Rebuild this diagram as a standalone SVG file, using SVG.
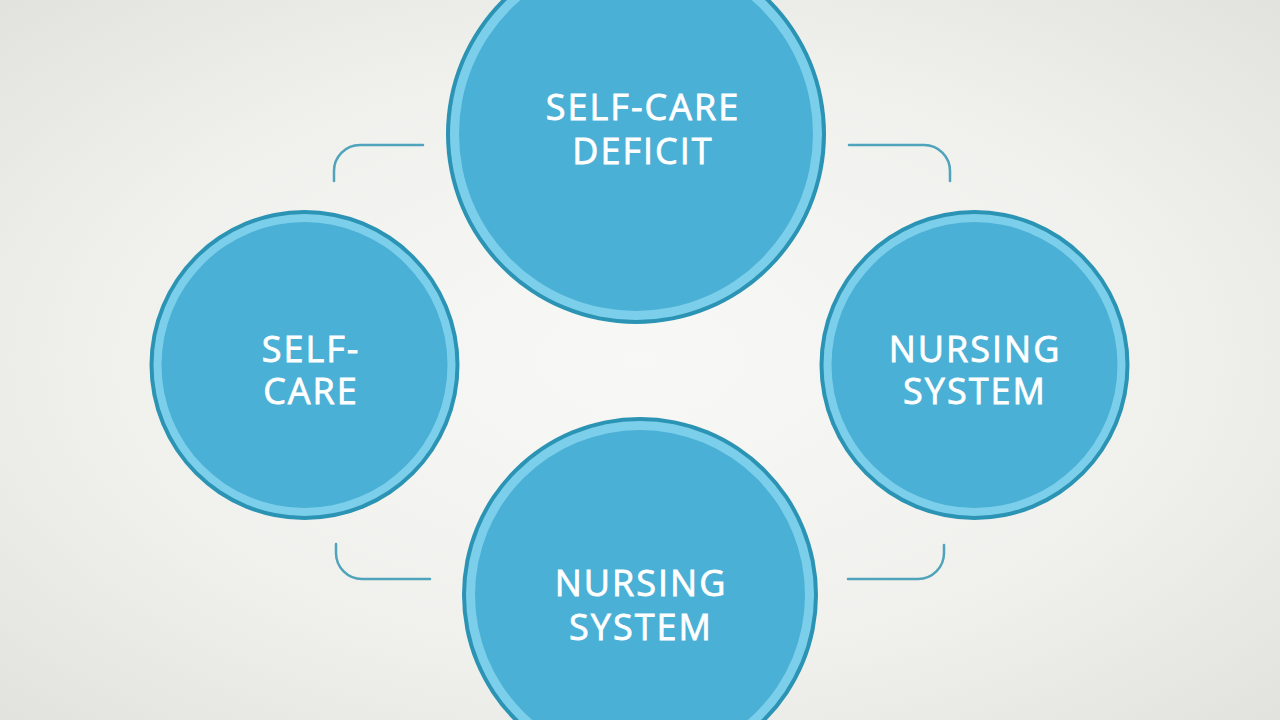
<svg xmlns="http://www.w3.org/2000/svg" width="1280" height="720" viewBox="0 0 1280 720">
<defs>
<radialGradient id="bg" cx="50%" cy="50%" r="70%">
<stop offset="0" stop-color="#f8f8f6"/>
<stop offset="0.6" stop-color="#f0f0ed"/>
<stop offset="1" stop-color="#e2e2df"/>
</radialGradient>
<style>
.outer{fill:#2b93b4}
.ring{fill:#7ccfea}
.inner{fill:#4bb0d6}
.lbl{font-family:"Open Sans","Liberation Sans",sans-serif;font-size:36px;fill:#ffffff;stroke:#ffffff;stroke-width:0.8px;text-anchor:middle;font-weight:400;letter-spacing:2px}
.conn{fill:none;stroke:#4fa3bb;stroke-width:2.5;stroke-linecap:round}
</style>
</defs>
<rect width="1280" height="720" fill="url(#bg)"/>
<g id="connectors">
<path class="conn" d="M423 145 H360 A26 26 0 0 0 334 171 V181"/>
<path class="conn" d="M849 145 H924 A26 26 0 0 1 950 171 V181"/>
<path class="conn" d="M336 544 V553 A26 26 0 0 0 362 579 H430"/>
<path class="conn" d="M944 545 V553 A26 26 0 0 1 918 579 H848"/>
</g>
<g id="node-deficit">
<circle class="outer" cx="636" cy="134" r="190"/>
<circle class="ring" cx="636" cy="134" r="186"/>
<circle class="inner" cx="636" cy="134" r="177"/>
<text class="lbl" x="643" y="120">SELF-CARE</text>
<text class="lbl" x="643" y="164">DEFICIT</text>
</g>
<g id="node-selfcare">
<circle class="outer" cx="304.5" cy="365" r="155"/>
<circle class="ring" cx="304.5" cy="365" r="151"/>
<circle class="inner" cx="304.5" cy="365" r="143"/>
<text class="lbl" x="311" y="362">SELF-</text>
<text class="lbl" x="311" y="404">CARE</text>
</g>
<g id="node-nursing-right">
<circle class="outer" cx="974.5" cy="365" r="155"/>
<circle class="ring" cx="974.5" cy="365" r="151"/>
<circle class="inner" cx="974.5" cy="365" r="143"/>
<text class="lbl" x="975" y="362">NURSING</text>
<text class="lbl" x="975" y="404">SYSTEM</text>
</g>
<g id="node-nursing-bottom">
<circle class="outer" cx="640" cy="595" r="178"/>
<circle class="ring" cx="640" cy="595" r="174"/>
<circle class="inner" cx="640" cy="595" r="165"/>
<text class="lbl" x="641" y="596">NURSING</text>
<text class="lbl" x="641" y="640">SYSTEM</text>
</g>
</svg>
